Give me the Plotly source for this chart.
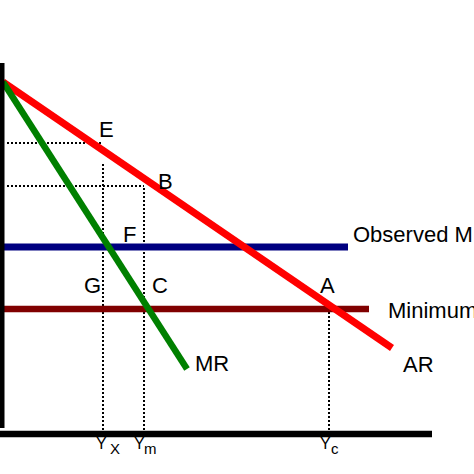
import plotly.graph_objects as go

# 1. Diagram values (quantity on x, price on y)
ar_q = [0, 38.9]          # average revenue (demand) line
ar_p = [35.2, 8.6]
mr_q = [0, 18.4]          # marginal revenue line
mr_p = [35.2, 6.5]

observed_p = 18.7         # observed marginal cost level
observed_end = 34.5
minimum_p = 12.5          # minimum level
minimum_end = 36.6

p_e = 29.1                # price guides (dotted)
p_b = 24.8
q_x = 10.0                # quantities on the horizontal axis
q_m = 14.1
q_c = 32.6
q_x_top = 27.1

axis_top = 37.1
axis_right = 42.9

point_labels = ['E', 'B', 'F', 'G', 'C', 'A']
point_q = [10.35, 16.2, 12.6, 8.95, 15.65, 32.4]
point_p = [30.5, 25.25, 20.0, 14.9, 14.9, 14.9]

line_labels = ['MR', 'AR', 'Observed M', 'Minimum']
line_label_q = [19.3, 40.1, 35.1, 38.6]
line_label_p = [7.1, 6.95, 20.0, 12.35]

tick_main = ['Y', 'Y', 'Y']
tick_sub = ['X', 'm', 'c']
tick_q = [9.4, 13.2, 31.8]
sub_q = [10.8, 14.2, 32.9]

font_family = 'Liberation Sans, Arial, sans-serif'
dot_style = '2px,2px'

fig = go.Figure()


def add_line(xs, ys, color, width, dash='solid'):
    fig.add_trace(go.Scatter(x=xs, y=ys, mode='lines', hoverinfo='skip',
                             line=dict(color=color, width=width, dash=dash)))


# 2. Dotted guide lines
add_line([0.4, q_x], [p_e, p_e], 'black', 2, dot_style)
add_line([0.4, q_m], [p_b, p_b], 'black', 2, dot_style)
add_line([q_x, q_x], [0, q_x_top], 'black', 2, dot_style)
add_line([q_m, q_m], [0, p_b], 'black', 2, dot_style)
add_line([q_c, q_c], [0, minimum_p], 'black', 2, dot_style)

# 3. Coloured curves
add_line([-0.3, observed_end], [observed_p, observed_p], '#000080', 7)
add_line([-0.3, minimum_end], [minimum_p, minimum_p], '#800000', 6.5)
add_line(ar_q, ar_p, '#ff0000', 7)
add_line(mr_q, mr_p, '#008000', 6.5)

# 4. Axes drawn as thick black lines
add_line([-0.1, -0.1], [0.6, axis_top], 'black', 5)
add_line([-0.3, axis_right], [0, 0], 'black', 6.5)

# 5. Labels
annotations = []
for txt, x, y in zip(point_labels, point_q, point_p):
    annotations.append(dict(x=x, y=y, text=txt, showarrow=False,
                            xanchor='center', yanchor='middle',
                            font=dict(size=22, color='black', family=font_family)))
for txt, x, y in zip(line_labels, line_label_q, line_label_p):
    annotations.append(dict(x=x, y=y, text=txt, showarrow=False,
                            xanchor='left', yanchor='middle', xshift=-3,
                            font=dict(size=22, color='black', family=font_family)))
for main, sub, x, xs in zip(tick_main, tick_sub, tick_q, sub_q):
    annotations.append(dict(x=x, y=-0.95, text=main, showarrow=False,
                            xanchor='left', yanchor='middle', xshift=-3,
                            font=dict(size=16, color='black', family=font_family)))
    annotations.append(dict(x=xs, y=-1.4, text=sub, showarrow=False,
                            xanchor='left', yanchor='middle', xshift=-3,
                            font=dict(size=15, color='black', family=font_family)))

fig.update_layout(
    width=474, height=474,
    margin=dict(l=0, r=0, t=0, b=0),
    plot_bgcolor='white', paper_bgcolor='white',
    showlegend=False,
    xaxis=dict(range=[-0.3, 47.1], visible=False, fixedrange=True),
    yaxis=dict(range=[-4.0, 43.4], visible=False, fixedrange=True),
    annotations=annotations,
)

# the page body has a default margin; remove it so the chart fills the window
fig.write_html("out.html", config={'displayModeBar': False},
               post_script="document.body.style.margin='0';")
